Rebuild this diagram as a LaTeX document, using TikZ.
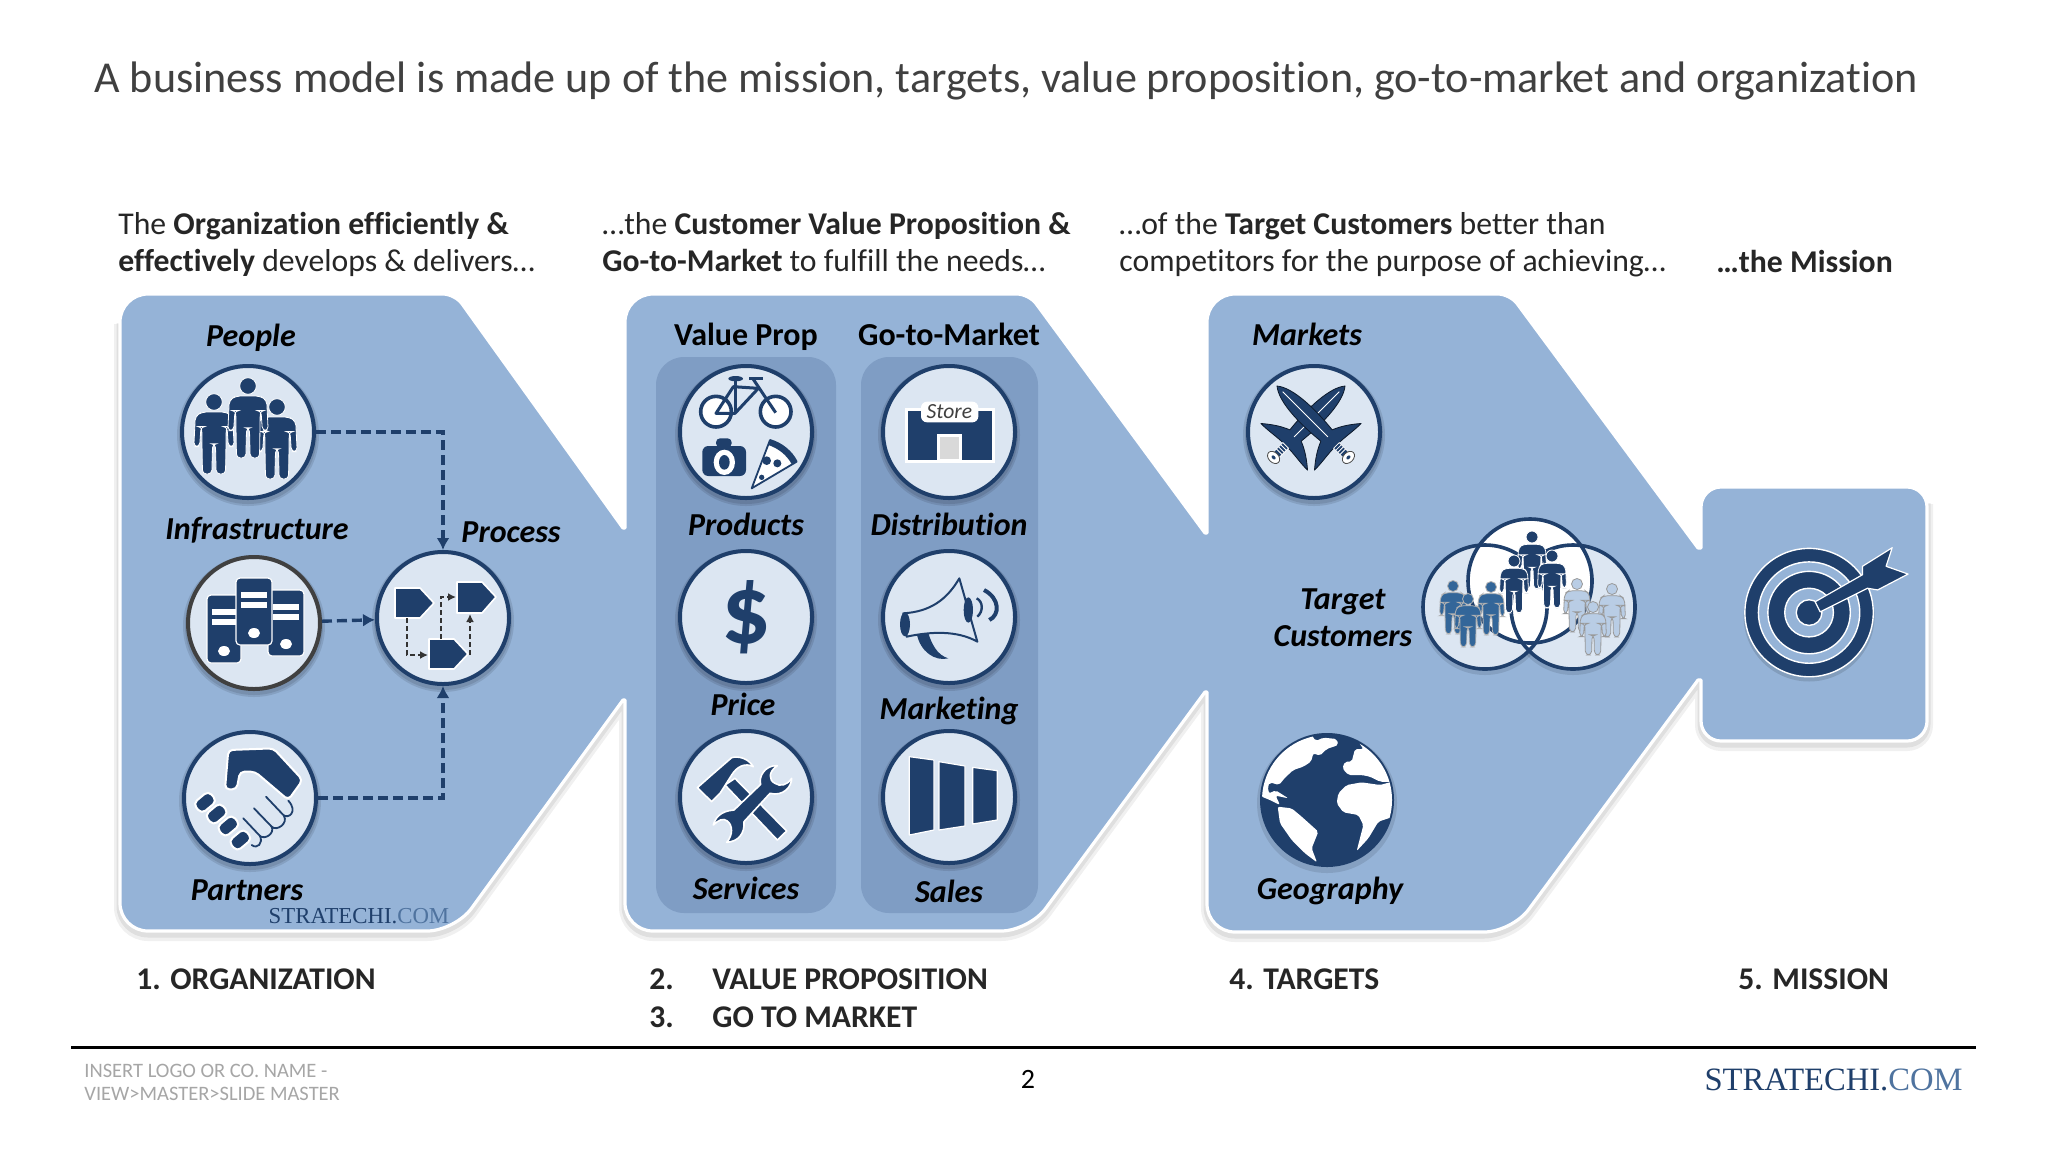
\documentclass[tikz,border=0pt]{standalone}
\usepackage{fontspec}
\setmainfont{Carlito}[Ligatures=NoCommon]
\newfontfamily\serifbrand{Liberation Serif}
\usetikzlibrary{arrows.meta,calc}
\definecolor{shapeblue}{HTML}{95B3D7}
\definecolor{panelblue}{HTML}{7F9DC4}
\definecolor{navy}{HTML}{1F3F6B}
\definecolor{pale}{HTML}{DCE6F2}
\definecolor{txt}{HTML}{404040}
\definecolor{midblue}{HTML}{336699}
\definecolor{lightperson}{HTML}{B9CDE5}
\definecolor{brandlight}{HTML}{4F739F}
\tikzset{
  x=0.5pt,y=-0.5pt,
  sil/.style={fill=shapeblue,draw=white,line width=1.6pt,line join=round},
  iconcirc/.style={circle,draw=navy,line width=2pt,fill=pale,minimum size=66pt,inner sep=0pt,
    preaction={draw=black,opacity=.10,line width=5pt,transform canvas={yshift=-1.5pt}},
    preaction={draw=black,opacity=.10,line width=3pt,transform canvas={yshift=-1.5pt}}},
  lab/.style={font=\fontsize{16}{19}\selectfont\bfseries\itshape,anchor=base,text=black,inner sep=0pt},
  collab/.style={font=\fontsize{16}{19}\selectfont\bfseries,anchor=base,text=black,inner sep=0pt},
  head/.style={font=\fontsize{15.85}{19}\selectfont,anchor=base west,text=black!85,inner sep=0pt},
  foot/.style={font=\fontsize{15.8}{19}\selectfont\bfseries,anchor=base west,text=black!85,inner sep=0pt},
  small/.style={font=\fontsize{10.25}{12}\selectfont,anchor=base west,text=black!35,inner sep=0pt},
  dashlink/.style={draw=navy,line width=1.7pt,dash pattern=on 5pt off 2.5pt,-{Latex[length=6pt,width=6.5pt]}},
  dashmini/.style={draw=black!80,line width=.9pt,dash pattern=on 2.5pt off 1.5pt,-{Latex[length=4pt,width=4pt]}},
  dk/.style={fill=navy,draw=white,line width=.6pt,line join=round},
}
\newcommand{\mansym}[5]{%
  \begin{scope}[shift={(#1,#2)},scale=#3]
    \filldraw[fill=#4,draw=#5,line width=.4pt] (0,0) circle (11.5);
    \filldraw[fill=#4,draw=#5,line width=.4pt,rounded corners=2pt] (-17,14) -- (17,14) -- (26,20) -- (28,62) -- (20,62) -- (18,34) -- (17,34) -- (16,100) -- (3,100) -- (2,58) -- (-2,58) -- (-3,100) -- (-16,100) -- (-17,34) -- (-18,34) -- (-20,62) -- (-28,62) -- (-26,20) -- cycle;
  \end{scope}}
\newcommand{\swordsym}[3]{%
  \begin{scope}[shift={(#1,#2)},rotate=#3]
    \filldraw[fill=navy,draw=black!60!navy,line width=.4pt,line join=round] (0,0) .. controls (12,-10) and (42,-11) .. (70,-8) .. controls (74,-18) and (80,-26) .. (86,-33) .. controls (86,-22) and (84,-12) .. (84,-4) -- (84,4) .. controls (84,12) and (86,22) .. (86,33) .. controls (80,26) and (74,18) .. (70,8) .. controls (42,11) and (12,10) .. (0,0) -- cycle;
    \draw[white,line width=.4pt] (8,0) -- (72,0);
    \filldraw[fill=navy,draw=white,line width=.4pt] (84,-4) rectangle (97,4);
    \draw[white,line width=.4pt] (87,-4) -- (87,4) (90,-4) -- (90,4) (93,-4) -- (93,4);
    \filldraw[fill=white,draw=black!70,line width=.4pt] (101,0) ellipse (5 and 7);
    \fill[navy] (101,0) ellipse (1.6 and 2.4);
  \end{scope}}
\begin{document}
\begin{tikzpicture}
\useasboundingbox (0,0) rectangle (2048,1152);
\fill[white] (0,0) rectangle (2048,1152);

% --- silhouette of the chevrons
\path[draw=black,opacity=.06,line width=6pt,line join=round,transform canvas={yshift=-2pt}] (120,320) [rounded corners=14pt] -- (120,931) -- (455,931) [sharp corners] -- (623,700) -- (625,700) [rounded corners=14pt] -- (625,931) -- (1029,931) [sharp corners] -- (1205,692) -- (1207,692) [rounded corners=14pt] -- (1207,932) -- (1512,932) [sharp corners] -- (1698,680) -- (1701,680) [rounded corners=10pt] -- (1701,741) -- (1927,741) -- (1927,500);
\path[draw=black,opacity=.07,line width=3.5pt,line join=round,transform canvas={yshift=-1.5pt}] (120,320) [rounded corners=14pt] -- (120,931) -- (455,931) [sharp corners] -- (623,700) -- (625,700) [rounded corners=14pt] -- (625,931) -- (1029,931) [sharp corners] -- (1205,692) -- (1207,692) [rounded corners=14pt] -- (1207,932) -- (1512,932) [sharp corners] -- (1698,680) -- (1701,680) [rounded corners=10pt] -- (1701,741) -- (1927,741) -- (1927,500);
\path[sil] (120,600) [rounded corners=14pt] -- (120,931) -- (455,931) [sharp corners] -- (623,700) -- (625,700)
  [rounded corners=14pt] -- (625,931) -- (1029,931) [sharp corners] -- (1205,692) -- (1207,692)
  [rounded corners=14pt] -- (1207,932) -- (1512,932) [sharp corners] -- (1698,680) -- (1701,680)
  [rounded corners=10pt] -- (1701,741) -- (1927,741) -- (1927,487) -- (1701,487) [sharp corners] -- (1701,548) -- (1698,548)
  [rounded corners=6pt] -- (1510,294) [rounded corners=14pt] -- (1207,294) [sharp corners] -- (1207,533) -- (1205,533)
  [rounded corners=6pt] -- (1029,294) [rounded corners=14pt] -- (625,294) [sharp corners] -- (625,528) -- (623,528)
  [rounded corners=6pt] -- (455,294) [rounded corners=14pt] -- (120,294) -- cycle;

% --- panels
\fill[panelblue,rounded corners=14pt] (656,357) rectangle (836,913);
\fill[panelblue,rounded corners=14pt] (861,357) rectangle (1038,913);

% --- title and header texts
\node[font=\fontsize{22.06}{26}\selectfont,anchor=base west,text=txt,inner sep=0pt] (title) at (94,92) {A business model is made up of the mission, targets, value proposition, go-to-market and organization};
\node[head] (h1a) at (118,234) {The \textbf{Organization efficiently \&}};
\node[head] (h1b) at (118,271) {\textbf{effectively} develops \& delivers…};
\node[head] (h2a) at (602,234) {…the \textbf{Customer Value Proposition \&}};
\node[head] (h2b) at (602,271) {\textbf{Go-to-Market} to fulfill the needs…};
\node[head] (h3a) at (1119,234) {…of the \textbf{Target Customers} better than};
\node[head] (h3b) at (1119,271) {competitors for the purpose of achieving…};
\node[head] (h4) at (1716,272) {\textbf{…the Mission}};

% --- icon circles
\node[iconcirc] (people) at (248,432) {};
\node[iconcirc,draw=black!75] (infra) at (254,623) {};
\node[iconcirc] (process) at (443,618) {};
\node[iconcirc] (partners) at (250,798) {};
\node[iconcirc] (products) at (746,432) {};
\node[iconcirc] (distribution) at (949,432) {};
\node[iconcirc] (price) at (746,617) {};
\node[iconcirc] (marketing) at (949,617) {};
\node[iconcirc] (services) at (746,797) {};
\node[iconcirc] (sales) at (949,797) {};
\node[iconcirc] (markets) at (1314,432) {};

% --- connectors
\draw[dashlink] (people) -| (process);
\draw[dashlink] (infra) -- (process);
\draw[dashlink] (partners) -| (process);

% --- people icon
\mansym{214}{402}{.72}{navy}{white}
\mansym{277}{407}{.72}{navy}{white}
\mansym{248}{386}{.72}{navy}{white}

% --- server icon
\foreach \a/\b/\c/\d in {207/595/241/663,268/590/304/656,236/578/272/645}{
  \filldraw[dk,rounded corners=2pt] (\a,\b) rectangle (\c,\d);
  \fill[white] (\a+5,\b+14) rectangle (\c-5,\b+20);
  \fill[white] (\a+5,\b+24) rectangle (\c-5,\b+30);
  \fill[white] ({(\a+\c)/2},\d-12) ellipse (6 and 5);
}

% --- process icon
\filldraw[dk,line width=.8pt] (395,588) -- (420,588) -- (434,603) -- (420,618) -- (395,618) -- cycle;
\filldraw[dk,line width=.8pt] (457,582) -- (482,582) -- (496,597) -- (482,613) -- (457,613) -- cycle;
\filldraw[dk,line width=.8pt] (429,639) -- (454,639) -- (468,654) -- (454,669) -- (429,669) -- cycle;
\draw[dashmini] (407,618) -- (407,655) -- (428,655);
\draw[dashmini] (441,639) -- (441,597) -- (456,597);
\draw[dashmini] (470,655) -- (470,614);

% --- handshake icon
\begin{scope}[shift={(180,730)},scale=1/3]
  \draw[navy,line width=.9pt,line cap=round] (258,200) -- (310,255) .. controls (325,268) and (355,245) .. (325,212);
  \draw[navy,line width=.9pt,line cap=round] (222,235) -- (275,290) .. controls (290,305) and (325,280) .. (312,258);
  \draw[navy,line width=.9pt,line cap=round] (190,265) -- (240,318) .. controls (255,330) and (285,310) .. (275,290);
  \draw[navy,line width=.9pt,line cap=round] (215,345) .. controls (232,358) and (250,340) .. (240,318);
  \filldraw[dk,line width=1pt,rounded corners=2.2pt] (145,60) -- (280,55) -- (368,150) -- (325,210) -- (225,125) -- (180,125) -- (170,178) -- (135,178) -- cycle;
  \foreach \cx/\cy in {75/217,110/252,145/288,181/330}{
    \filldraw[dk,line width=1pt,rounded corners=2.5pt,rotate around={40:(\cx,\cy)}] (\cx-30,\cy-20) rectangle (\cx+30,\cy+20);
  }
\end{scope}

% --- bike, camera, pizza icon
\begin{scope}[shift={(620,290)},scale=1/3]
  \filldraw[fill=white,draw=navy,line width=1.8pt] (288,365) circle (46);
  \filldraw[fill=white,draw=navy,line width=1.8pt] (467,365) circle (46);
  \draw[navy,line width=1.5pt,line join=round] (288,370) -- (340,290) -- (415,295) -- (345,370) -- cycle;
  \draw[navy,line width=1.5pt,line join=round] (345,370) -- (345,270);
  \draw[navy,line width=1.5pt] (398,265) -- (467,368);
  \draw[navy,line width=1.5pt] (388,265) -- (428,265);
  \fill[navy] (347,266) ellipse (22 and 8);
  \fill[navy,rounded corners=3pt] (247,468) rectangle (378,558);
  \fill[navy,rounded corners=2pt] (288,445) rectangle (335,472);
  \fill[white] (313,517) ellipse (32 and 38);
  \fill[navy] (313,517) ellipse (16 and 22);
  \filldraw[fill=white,draw=navy,line width=.9pt,line join=round] (395,595) -- (450,450) .. controls (485,460) and (515,485) .. (530,515) -- cycle;
  \fill[navy] (450,450) .. controls (485,460) and (515,485) .. (530,515) -- (515,522) .. controls (500,495) and (475,475) .. (445,465) -- cycle;
  \fill[navy] (440,512) circle (13) (472,520) circle (12) (425,562) circle (8);
\end{scope}

% --- store icon
\begin{scope}[shift={(620,290)},scale=1/3]
  \filldraw[fill=navy,draw=white,line width=1.6pt] (860,358) rectangle (1120,515);
  \filldraw[fill=black!15,draw=white,line width=1.6pt] (955,436) rectangle (1022,512);
  \filldraw[fill=white,draw=none,rounded corners=3pt] (903,335) rectangle (1075,397);
  \node[font=\fontsize{10.8}{13}\selectfont\itshape,text=txt,inner sep=0pt] (storesign) at (988,366) {Store};
\end{scope}

% --- dollar
\node[font=\fontsize{49}{52}\selectfont\bfseries,text=navy,inner sep=0pt] (dollar) at (746,617) {\$};

% --- megaphone
\begin{scope}[shift={(620,290)},scale=1/3]
  \fill[navy] (890,1030) .. controls (900,1085) and (945,1115) .. (985,1105) .. controls (950,1095) and (935,1060) .. (925,1030) -- cycle;
  \filldraw[fill=pale,draw=navy,line width=1pt,line join=round] (850,970) .. controls (930,965) and (980,930) .. (1018,865) -- (1072,1055) .. controls (1010,1020) and (930,1025) .. (860,1040) -- cycle;
  \fill[navy] (855,1003) ellipse (15 and 36);
  \fill[navy] (1045,960) ellipse (14 and 38);
  \draw[navy,line width=1.2pt] (1070,925) .. controls (1090,935) and (1090,965) .. (1072,980);
  \draw[navy,line width=2pt] (1092,900) .. controls (1140,925) and (1140,975) .. (1108,990);
\end{scope}

% --- tools
\begin{scope}[shift={(670,725)},scale=1/3]
  \filldraw[dk,line width=.8pt] (165,180) -- (195,160) -- (350,318) -- (322,345) -- cycle;
  \filldraw[dk,line width=.8pt] (82,188) -- (108,165) -- (125,150) -- (185,98) .. controls (205,92) and (235,100) .. (250,125) .. controls (225,112) and (200,125) .. (185,150) -- (150,205) -- (125,230) -- cycle;
  \filldraw[dk,line width=.8pt] (322,122) .. controls (285,120) and (265,155) .. (272,178) -- (192,255) .. controls (150,258) and (135,280) .. (130,300) .. controls (145,285) and (160,278) .. (172,288) .. controls (188,300) and (190,330) .. (170,352) .. controls (205,350) and (225,325) .. (222,290) -- (300,205) .. controls (340,215) and (365,185) .. (365,160) .. controls (350,182) and (330,185) .. (315,175) .. controls (295,165) and (295,140) .. (322,122) -- cycle;
\end{scope}

% --- sales bars
\begin{scope}[shift={(620,680)},scale=1/3]
  \filldraw[dk] (868,230) -- (942,240) -- (942,450) -- (868,465) -- cycle;
  \filldraw[dk] (957,245) -- (1035,258) -- (1035,438) -- (957,450) -- cycle;
  \filldraw[dk] (1058,262) -- (1132,272) -- (1132,420) -- (1058,432) -- cycle;
\end{scope}

% --- swords
\swordsym{1345}{386}{-135}
\swordsym{1277}{386}{-45}

% --- venn
\fill[black,opacity=.10] (1485,611) circle (64);
\fill[black,opacity=.10] (1573,611) circle (64);
\fill[pale] (1485,607) circle (62);
\fill[pale] (1573,607) circle (62);
\fill[white] (1530,581) circle (62);
\begin{scope}
  \clip (1485,607) circle (62);
  \fill[white] (1573,607) circle (62);
\end{scope}
\node[circle,draw=navy,line width=1.8pt,inner sep=0pt,minimum size=62pt] (vl) at (1485,607) {};
\node[circle,draw=navy,line width=1.8pt,inner sep=0pt,minimum size=62pt] (vr) at (1573,607) {};
\node[circle,draw=navy,line width=1.8pt,inner sep=0pt,minimum size=62pt] (vt) at (1530,581) {};
\mansym{1532}{537}{.52}{navy}{white}
\mansym{1514}{561}{.52}{navy}{white}
\mansym{1552}{556}{.52}{navy}{white}
\mansym{1453}{586}{.48}{midblue}{black!30}
\mansym{1491}{587}{.48}{midblue}{black!30}
\mansym{1468}{599}{.48}{midblue}{black!30}
\mansym{1577}{584}{.48}{lightperson}{black!40}
\mansym{1612}{589}{.48}{lightperson}{black!40}
\mansym{1593}{607}{.48}{lightperson}{black!40}

% --- globe
\node[circle,fill=navy,inner sep=0pt,minimum size=67pt,preaction={draw=black,opacity=.10,line width=3pt,transform canvas={yshift=-1.5pt}}] (globe) at (1327,800) {};
\begin{scope}
  \clip (1327,800) circle (65);
  \begin{scope}[shift={(1255,725)},scale=1/3]
    \fill[white,rounded corners=1pt] (0,190) -- (20,80) -- (110,20) -- (170,30) -- (182,48) -- (205,38) -- (245,42) -- (250,60) -- (215,72) -- (195,92) -- (175,85) -- (168,110) -- (145,125) -- (115,135) -- (90,158) -- (72,180) -- (45,172) -- (38,185) -- (42,205) -- (62,196) -- (100,220) -- (62,212) -- (75,240) -- (45,225) -- (20,215) -- cycle;
    \fill[white,rounded corners=1pt] (68,245) -- (110,250) -- (140,275) -- (190,320) -- (170,370) -- (186,412) -- (150,385) -- (110,345) -- (75,295) -- cycle;
    \fill[white,rounded corners=1pt] (250,205) -- (275,180) -- (320,172) -- (375,180) -- (430,165) -- (430,270) -- (370,290) -- (340,340) -- (305,378) -- (325,300) -- (310,270) -- (265,262) -- (245,235) -- cycle;
    \fill[white,rounded corners=1pt] (290,110) -- (300,72) -- (325,72) -- (310,50) -- (350,50) -- (430,120) -- (430,172) -- (375,170) -- (345,155) -- (320,150) -- (280,150) -- (262,130) -- (270,110) -- cycle;
  \end{scope}
\end{scope}

% --- target
\begin{scope}[shift={(1680,470)},scale=1/2.96]
  \fill[black,opacity=.12] (382,432) circle (194);
  \filldraw[fill=navy,draw=white,line width=.7pt] (382,422) circle (190);
  \filldraw[fill=shapeblue,draw=white,line width=.7pt] (382,422) circle (150);
  \filldraw[fill=navy,draw=white,line width=.7pt] (382,422) circle (122);
  \filldraw[fill=shapeblue,draw=white,line width=.7pt] (382,422) circle (72);
  \filldraw[fill=navy,draw=white,line width=.7pt] (382,422) circle (38);
  \filldraw[dk] (400,390) -- (540,310) -- (540,285) -- (628,230) -- (610,285) -- (675,308) -- (585,355) -- (555,350) -- (415,420) -- cycle;
\end{scope}

% --- node labels
\node[lab] (lpeople) at (251,346) {People};
\node[lab] (linfra) at (257,539) {Infrastructure};
\node[lab] (lprocess) at (511,542) {Process};
\node[lab] (lpartners) at (247,900) {Partners};
\node[font=\fontsize{11.4}{13}\selectfont\serifbrand,anchor=base,inner sep=0pt,text=navy] (wm) at (359,923) {STRATECHI.\textcolor{brandlight}{COM}};
\node[collab] (lvp) at (746,345) {Value Prop};
\node[collab] (lgtm) at (949,345) {Go-to-Market};
\node[lab] (lproducts) at (746,535) {Products};
\node[lab] (ldist) at (949,535) {Distribution};
\node[lab] (lprice) at (743,715) {Price};
\node[lab] (lmark) at (949,719) {Marketing};
\node[lab] (lserv) at (746,899) {Services};
\node[lab] (lsales) at (949,902) {Sales};
\node[lab] (lmarkets) at (1307,345) {Markets};
\node[lab] (ltarget) at (1343,609) {Target};
\node[lab] (lcust) at (1343,646) {Customers};
\node[lab] (lgeo) at (1330,899) {Geography};

% --- bottom labels
\node[foot] (f1) at (136,989) {1. ORGANIZATION};
\node[foot] (f2n) at (649,989) {2.};
\node[foot] (f2) at (712,989) {VALUE PROPOSITION};
\node[foot] (f3n) at (649,1027) {3.};
\node[foot] (f3) at (712,1027) {GO TO MARKET};
\node[foot] (f4) at (1229,989) {4. TARGETS};
\node[foot] (f5) at (1738,989) {5. MISSION};

% --- footer
\coordinate (ruleA) at (71,1047.5);
\coordinate (ruleB) at (1976,1047.5);
\draw[black,line width=1.1pt] (ruleA) -- (ruleB);
\node[small] (sa) at (84,1077) {INSERT LOGO OR CO. NAME -};
\node[small] (sb) at (84,1100) {VIEW>MASTER>SLIDE MASTER};
\node[font=\fontsize{14}{16}\selectfont,anchor=base,inner sep=0pt] (pg) at (1028,1088) {2};
\node[font=\fontsize{16.3}{19}\selectfont\serifbrand,anchor=base east,inner sep=0pt,text=navy] (brand) at (1963,1090) {STRATECHI.\textcolor{brandlight}{COM}};
\end{tikzpicture}
\end{document}
